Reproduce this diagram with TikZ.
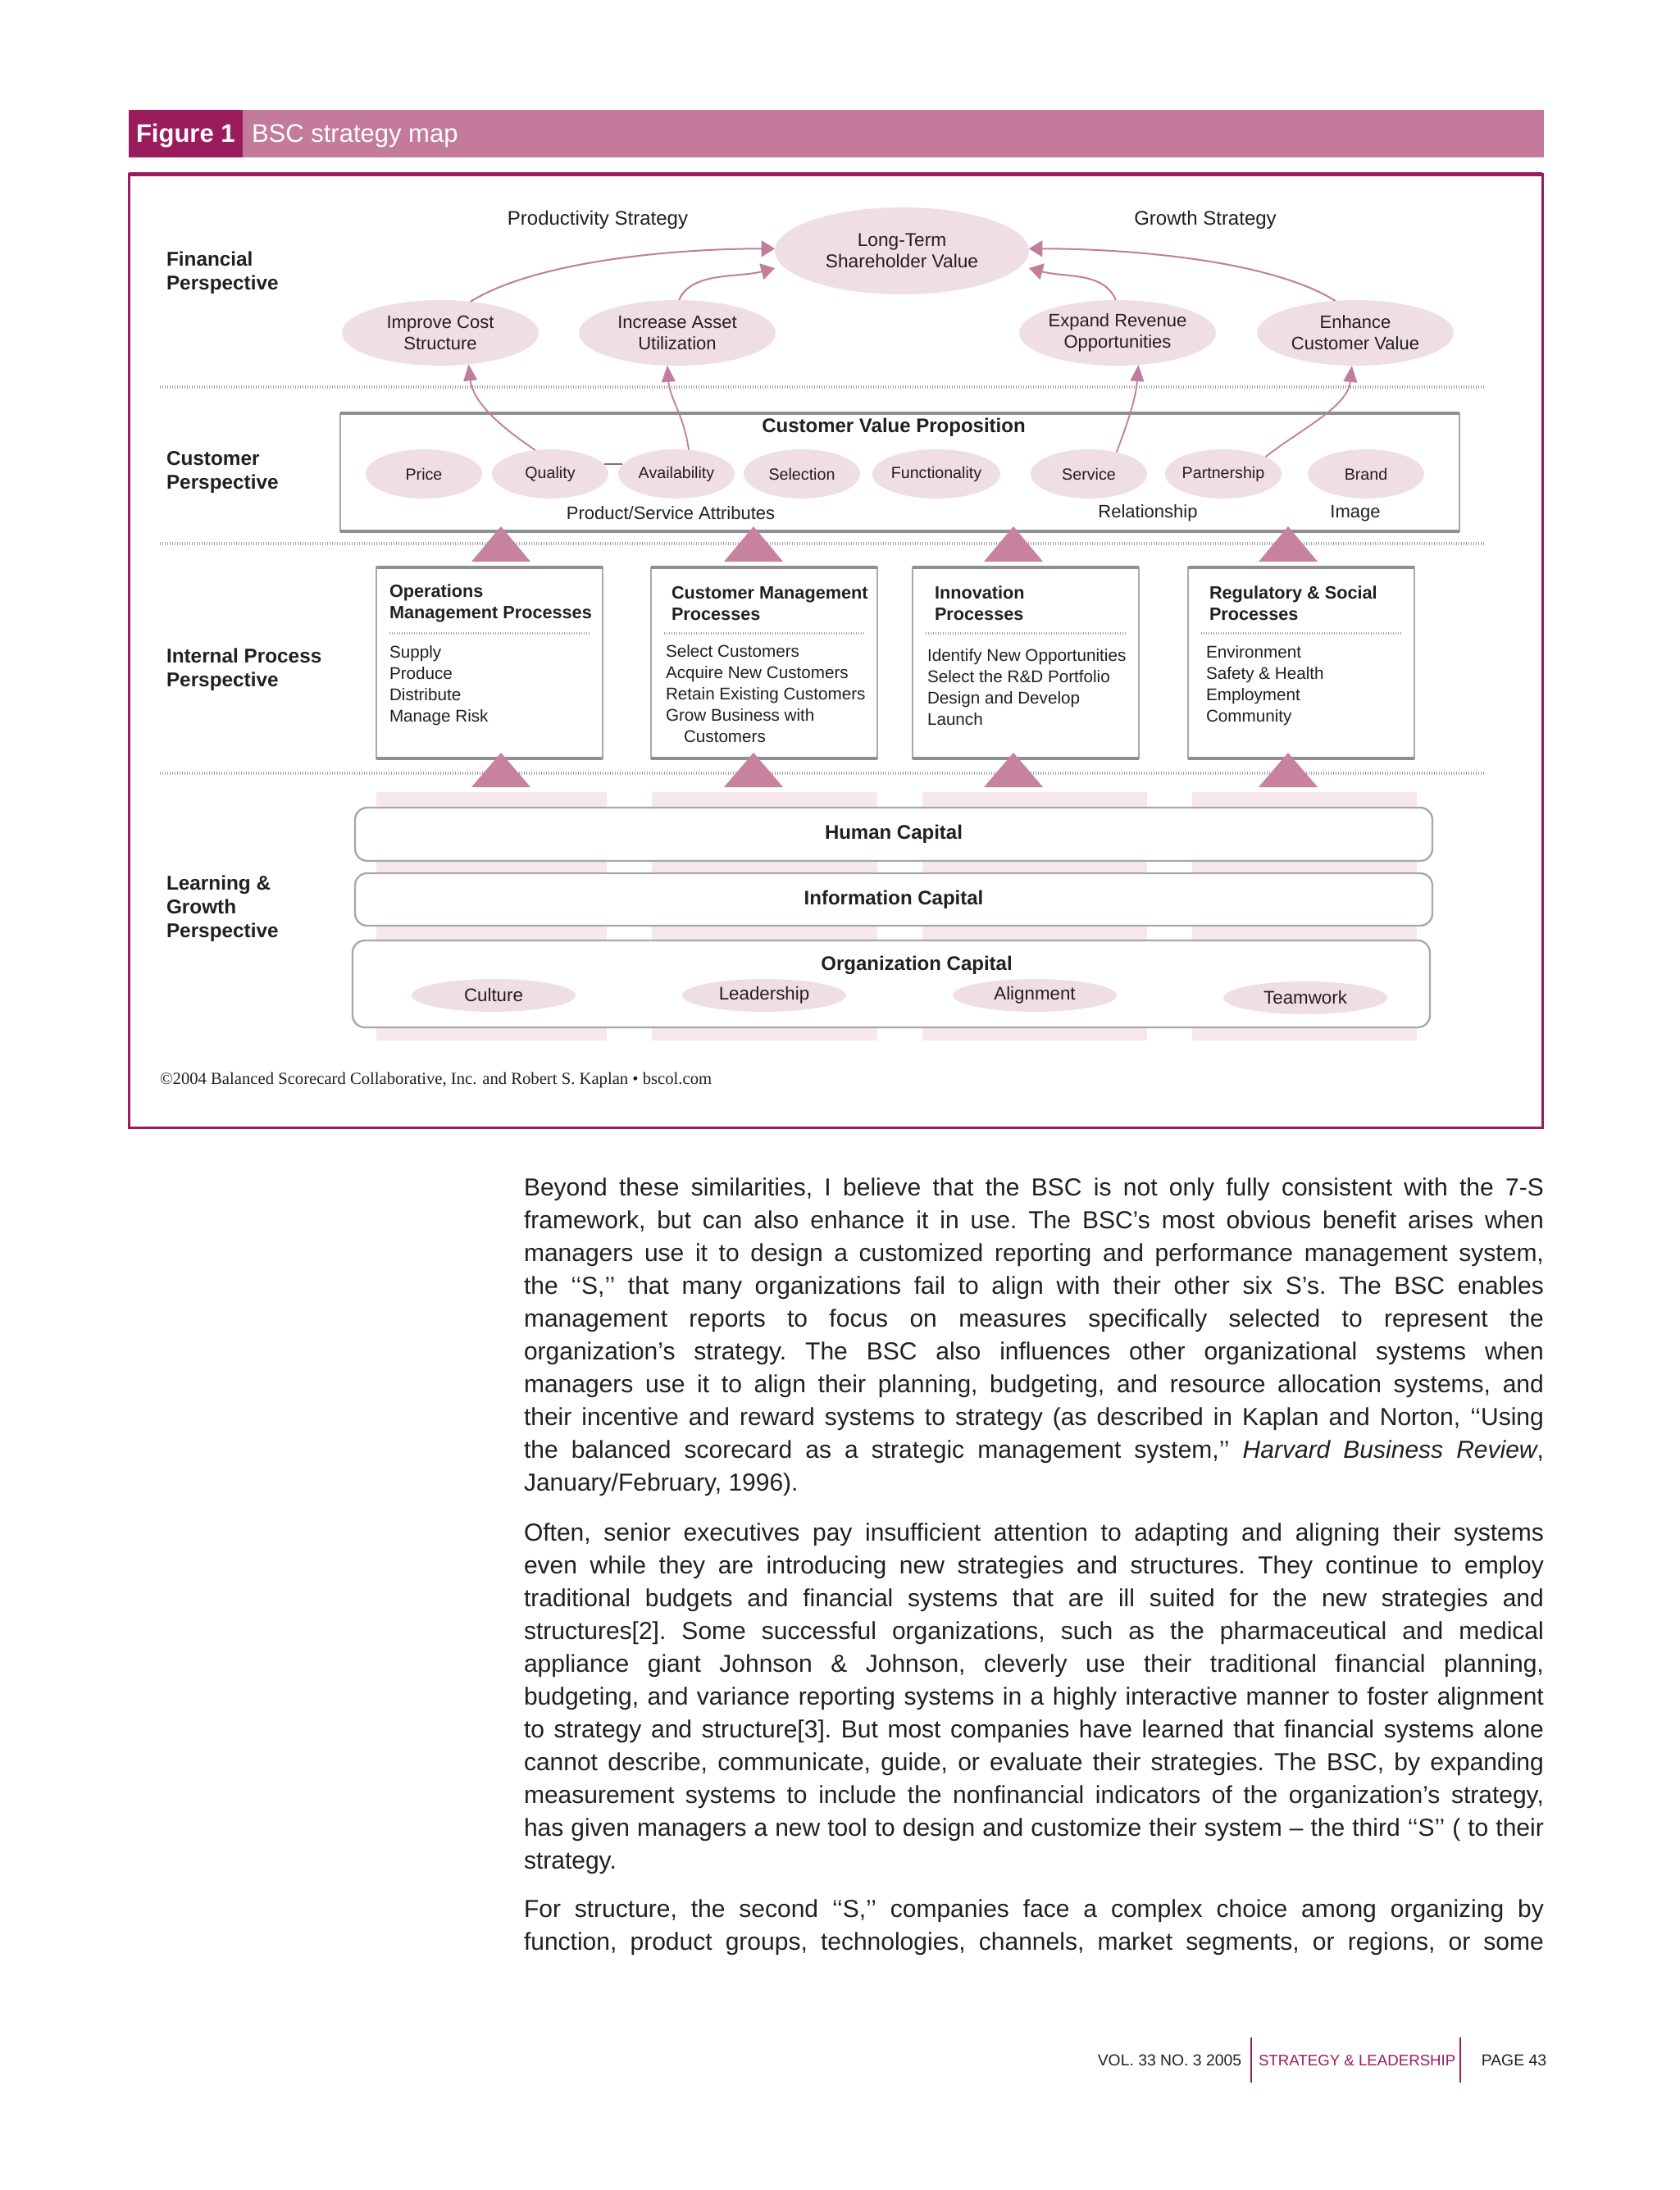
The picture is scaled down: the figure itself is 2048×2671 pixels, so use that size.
\documentclass[tikz,border=0pt]{standalone}
\usepackage{fontspec}
\setmainfont{Liberation Sans}
\newfontfamily\serifF{Liberation Serif}
\usetikzlibrary{shapes.geometric,arrows.meta}
\definecolor{barpink}{HTML}{C37A9B}
\definecolor{darkmag}{HTML}{9B1C5C}
\definecolor{ellfill}{HTML}{F0DEE6}
\definecolor{colfill}{HTML}{F6E8EE}
\definecolor{arrowc}{HTML}{C27C9C}
\definecolor{tric}{HTML}{C7829F}
\definecolor{boxgray}{HTML}{A8A8A8}
\definecolor{dotgray}{HTML}{A0A0A0}
\definecolor{txt}{HTML}{231F20}
\newcommand\myfs[2]{\fontsize{#1}{#2}\selectfont}
\begin{document}
\begin{tikzpicture}[x=0.3pt,y=0.3pt]
\tikzset{
  every node/.style={text=txt, inner sep=0pt, outer sep=0pt},
  ell/.style={ellipse, fill=ellfill, align=center},
  finell/.style={ell, minimum width=72pt, minimum height=24pt, font=\myfs{6.6}{7.8}},
  custell/.style={ell, minimum width=42.6pt, minimum height=18pt, font=\myfs{5.9}{7}},
  orgell/.style={ell, minimum width=60pt, minimum height=12pt, font=\myfs{6.7}{8}},
  persp/.style={anchor=west, align=left, font=\myfs{7.3}{8.7}\bfseries},
  strat/.style={font=\myfs{7.2}{8.6}},
  proc/.style={draw=boxgray, line width=0.45pt, fill=white, minimum width=82.8pt, minimum height=69.9pt},
  procedge/.style={draw=boxgray!85!black, line width=1pt},
  proctitle/.style={anchor=west, align=left, font=\myfs{6.5}{7.8}\bfseries},
  procitems/.style={anchor=west, align=left, font=\myfs{6.2}{7.8}},
  lgbox/.style={draw=boxgray, line width=0.7pt, fill=white, rounded corners=4.5pt, minimum width=394.2pt, font=\myfs{7.2}{8.6}\bfseries},
  divider/.style={draw=dotgray, line width=1.3pt, dash pattern=on 0.4pt off 0.5pt},
  sepline/.style={draw=dotgray, line width=0.9pt, dash pattern=on 0.4pt off 0.5pt},
  arr/.style={draw=arrowc, line width=0.6pt, -{Triangle[length=5pt,width=6pt]}},
  arrs/.style={draw=arrowc, line width=0.55pt, -{Triangle[length=6pt,width=5pt]}},
  tri/.style={fill=tric},
  body/.style={anchor=north west, text width=373.2pt, align=justify, font=\myfs{9}{12}},
}
\useasboundingbox (0,0) rectangle (2048,-2671);
\fill[white] (0,0) rectangle (2048,-2671);

% header
\fill[barpink] (157,-134) rectangle (1883,-192);
\fill[darkmag] (157,-134) rectangle (296,-192);
\node[anchor=west, text=white, font=\myfs{9.3}{11}\bfseries] (figlab) at (166,-166) {Figure 1};
\node[anchor=west, text=white, font=\myfs{9.3}{11}] (figtitle) at (307,-166) {BSC strategy map};

% frame
\draw[darkmag, line width=0.9pt] (157,-213) rectangle (1881,-1375);
\draw[darkmag, line width=1.5pt] (157,-213) -- (1881,-213);

% dividers
\draw[divider] (195,-472) -- (1810,-472);
\draw[divider] (195,-663) -- (1810,-663);
\draw[divider] (195,-943) -- (1810,-943);

% financial
\node[persp] (finp) at (203,-333) {Financial\\Perspective};
\node[strat] (prodstrat) at (729,-268) {Productivity Strategy};
\node[strat] (growstrat) at (1470,-268) {Growth Strategy};
\node[ell, minimum width=93pt, minimum height=31.8pt, font=\myfs{6.8}{7.8}] (longterm) at (1100,-306) {Long-Term\\Shareholder Value};
\node[finell] (improve) at (537,-406) {Improve Cost\\Structure};
\node[finell] (increase) at (826,-406) {Increase Asset\\Utilization};
\node[finell] (expand) at (1363,-406) {Expand Revenue\\Opportunities};
\node[finell] (enhance) at (1653,-406) {Enhance\\Customer Value};

\draw[arr] (improve.46) .. controls +(80,50) and +(-120,0) .. (longterm.179);
\draw[arr] (increase.87) .. controls +(15,35) and +(-45,-12) .. ([yshift=-6.3pt]longterm.west);
\draw[arr] (expand.93) .. controls +(-15,35) and +(45,-12) .. ([yshift=-6.3pt]longterm.east);
\draw[arr] (enhance.122) .. controls +(-80,50) and +(120,0) .. (longterm.1);

% customer
\node[persp] (custp) at (203,-576) {Customer\\Perspective};
\node[draw=boxgray, line width=0.5pt, minimum width=409.5pt, minimum height=43.2pt] (cvpbox) at (1097.5,-576) {};
\draw[procedge] (cvpbox.north west) -- (cvpbox.north east);
\draw[procedge] (cvpbox.south west) -- (cvpbox.south east);
\node[font=\myfs{7.2}{8.6}\bfseries] (cvptitle) at (1090,-521) {Customer Value Proposition};
\node[custell] (price) at (517,-578) {Price};
\node[custell] (quality) at (671,-578) {Quality};
\node[custell] (availability) at (825,-578) {Availability};
\node[custell] (selection) at (978,-578) {Selection};
\node[custell, minimum width=46.8pt] (functionality) at (1142,-578) {Functionality};
\node[custell] (service) at (1328,-578) {Service};
\node[custell] (partnership) at (1492,-578) {Partnership};
\node[custell] (brand) at (1666,-578) {Brand};
\draw[draw=arrowc!80!black, line width=0.6pt] (quality.10) -- (availability.170);
\node[font=\myfs{6.6}{8}] (psattr) at (818,-626) {Product/Service Attributes};
\node[font=\myfs{6.6}{8}] (relat) at (1400,-626) {Relationship};
\node[font=\myfs{6.6}{8}] (image) at (1653,-626) {Image};

\draw[arrs] (quality.122) .. controls +(-45,30) and +(5,-45) .. (improve.-48);
\draw[arrs] (availability.63) .. controls +(-5,40) and +(3,-40) .. (increase.-107);
\draw[arrs] (service.38) .. controls +(15,40) and +(-3,-40) .. (expand.-57);
\draw[arrs] (partnership.22) .. controls +(45,35) and +(-5,-50) .. (enhance.-96);

\foreach \tx in {611,919,1236,1571}{
  \fill[tri] (\tx-36,-685) -- (\tx,-642) -- (\tx+36,-685) -- cycle;
}

% internal process
\node[persp] (intp) at (203,-817) {Internal Process\\Perspective};
\node[proc] (ops) at (597,-808.5) {};
\node[proc] (cmp) at (932,-808.5) {};
\node[proc] (inn) at (1251,-808.5) {};
\node[proc] (reg) at (1587,-808.5) {};
\foreach \b in {ops,cmp,inn,reg}{
  \draw[procedge] (\b.north west) -- (\b.north east);
  \draw[procedge] (\b.south west) -- (\b.south east);
  \draw[sepline] ([xshift=4.8pt,yshift=-24pt]\b.north west) -- ([xshift=-4.8pt,yshift=-24pt]\b.north east);
}
\node[proctitle] (opst) at (475,-736) {Operations\\Management Processes};
\node[procitems] (opsi) at (475,-836) {Supply\\Produce\\Distribute\\Manage Risk};
\node[proctitle] (cmpt) at (819,-736) {Customer Management\\Processes};
\node[procitems] (cmpi) at (812,-846) {Select Customers\\Acquire New Customers\\Retain Existing Customers\\Grow Business with\\\hspace*{6.6pt}Customers};
\node[proctitle] (innt) at (1140,-736) {Innovation\\Processes};
\node[procitems] (inni) at (1131,-838) {Identify New Opportunities\\Select the R\&D Portfolio\\Design and Develop\\Launch};
\node[proctitle] (regt) at (1475,-736) {Regulatory \& Social\\Processes};
\node[procitems] (regi) at (1471,-836) {Environment\\Safety \& Health\\Employment\\Community};

\foreach \tx in {611,919,1236,1571}{
  \fill[tri] (\tx-36,-960) -- (\tx,-918) -- (\tx+36,-960) -- cycle;
}

% learning & growth
\foreach \a/\b in {459/740, 795/1070, 1125/1399, 1454/1728}{
  \fill[colfill] (\a,-966) rectangle (\b,-1269);
}
\node[persp] (lgp) at (203,-1108) {Learning \&\\Growth\\Perspective};
\node[lgbox, minimum height=19.5pt] (human) at (1090,-1017.5) {Human Capital};
\node[lgbox, minimum height=19.2pt] (info) at (1090,-1097) {Information Capital};
\node[lgbox, minimum height=31.8pt] (org) at (1087,-1200) {};
\node[font=\myfs{7.2}{8.6}\bfseries] (orgt) at (1118,-1177) {Organization Capital};
\node[orgell] (culture) at (602,-1214) {Culture};
\node[orgell] (leadership) at (932,-1214) {Leadership};
\node[orgell] (alignment) at (1262,-1214) {Alignment};
\node[orgell] (teamwork) at (1592,-1217) {Teamwork};

\node[anchor=west, font=\serifF\myfs{6.2}{7.5}] (copyr) at (195,-1318) {©2004 Balanced Scorecard Collaborative, Inc. and Robert S. Kaplan • bscol.com};

% body text
\node[body] (p1) at (639,-1437) {\frenchspacing\tolerance=10000 \hyphenpenalty=10000
Beyond these similarities, I believe that the BSC is not only fully consistent with the 7-S\linebreak
framework, but can also enhance it in use. The BSC’s most obvious benefit arises when\linebreak
managers use it to design a customized reporting and performance management system,\linebreak
the ‘‘S,’’ that many organizations fail to align with their other six S’s. The BSC enables\linebreak
management reports to focus on measures specifically selected to represent the\linebreak
organization’s strategy. The BSC also influences other organizational systems when\linebreak
managers use it to align their planning, budgeting, and resource allocation systems, and\linebreak
their incentive and reward systems to strategy (as described in Kaplan and Norton, ‘‘Using\linebreak
the balanced scorecard as a strategic management system,’’ \textit{Harvard Business Review},\linebreak
January/February, 1996).};

\node[body] (p2) at (639,-1858) {\frenchspacing\tolerance=10000 \hyphenpenalty=10000
Often, senior executives pay insufficient attention to adapting and aligning their systems\linebreak
even while they are introducing new strategies and structures. They continue to employ\linebreak
traditional budgets and financial systems that are ill suited for the new strategies and\linebreak
structures[2]. Some successful organizations, such as the pharmaceutical and medical\linebreak
appliance giant Johnson \& Johnson, cleverly use their traditional financial planning,\linebreak
budgeting, and variance reporting systems in a highly interactive manner to foster alignment\linebreak
to strategy and structure[3]. But most companies have learned that financial systems alone\linebreak
cannot describe, communicate, guide, or evaluate their strategies. The BSC, by expanding\linebreak
measurement systems to include the nonfinancial indicators of the organization’s strategy,\linebreak
has given managers a new tool to design and customize their system – the third ‘‘S’’ ( to their\linebreak
strategy.};

\node[body] (p3) at (639,-2317) {\frenchspacing\tolerance=10000 \hyphenpenalty=10000
For structure, the second ‘‘S,’’ companies face a complex choice among organizing by\linebreak
function, product groups, technologies, channels, market segments, or regions, or some\parfillskip=0pt\par};

% footer
\node[anchor=east, font=\myfs{5.8}{7}] (vol) at (1514,-2513) {VOL. 33 NO. 3 2005};
\node[anchor=west, text=darkmag, font=\myfs{5.6}{7}] (journal) at (1535,-2513) {STRATEGY \& LEADERSHIP};
\node[anchor=east, font=\myfs{5.8}{7}] (page) at (1886,-2513) {PAGE 43};
\draw[darkmag, line width=0.6pt] (1526,-2485) -- (1526,-2540);
\draw[darkmag, line width=0.6pt] (1781,-2485) -- (1781,-2540);
\end{tikzpicture}
\end{document}
